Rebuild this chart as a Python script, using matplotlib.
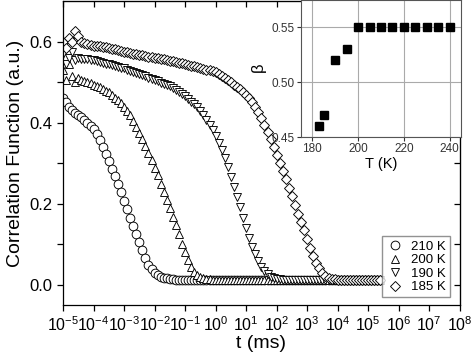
import numpy as np
import matplotlib
matplotlib.use("Agg")
import matplotlib.pyplot as plt
from matplotlib.ticker import FixedLocator, NullLocator

plt.rcParams['font.family'] = ['Liberation Sans', 'DejaVu Sans']
plt.rcParams['mathtext.fontset'] = 'custom'
plt.rcParams['mathtext.rm'] = 'Liberation Sans'
plt.rcParams['mathtext.it'] = 'Liberation Sans'

# shared sampling grid: log10(t / ms)
log_t = [-5.0, -4.9, -4.8, -4.7, -4.6, -4.5, -4.4, -4.3, -4.2, -4.1,
         -4.0, -3.9, -3.8, -3.7, -3.6, -3.5, -3.4, -3.3, -3.2, -3.1,
         -3.0, -2.9, -2.8, -2.7, -2.6, -2.5, -2.4, -2.3, -2.2, -2.1,
         -2.0, -1.9, -1.8, -1.7, -1.6, -1.5, -1.4, -1.3, -1.2, -1.1,
         -1.0, -0.9, -0.8, -0.7, -0.6, -0.5, -0.4, -0.3, -0.2, -0.1,
         0.0, 0.1, 0.2, 0.3, 0.4, 0.5, 0.6, 0.7, 0.8, 0.9,
         1.0, 1.1, 1.2, 1.3, 1.4, 1.5, 1.6, 1.7, 1.8, 1.9,
         2.0, 2.1, 2.2, 2.3, 2.4, 2.5, 2.6, 2.7, 2.8, 2.9,
         3.0, 3.1, 3.2, 3.3, 3.4, 3.5, 3.6, 3.7, 3.8, 3.9,
         4.0, 4.1, 4.2, 4.3, 4.4, 4.5, 4.6, 4.7, 4.8, 4.9,
         5.0, 5.1, 5.2, 5.3, 5.4]

g_210K = [0.460, 0.452, 0.440, 0.432, 0.425, 0.420, 0.414, 0.407, 0.400, 0.393,
          0.385, 0.372, 0.357, 0.340, 0.322, 0.305, 0.287, 0.268, 0.249, 0.228,
          0.207, 0.186, 0.166, 0.145, 0.125, 0.105, 0.086, 0.067, 0.050, 0.038,
          0.030, 0.024, 0.020, 0.017, 0.016, 0.015, 0.014, 0.013, 0.012, 0.012,
          0.012, 0.012, 0.012, 0.012, 0.012, 0.012, 0.012, 0.012, 0.012, 0.012,
          0.012, 0.012, 0.012, 0.012, 0.012, 0.012, 0.012, 0.012, 0.012, 0.012,
          0.012, 0.012, 0.012, 0.012, 0.012, 0.012, 0.012, 0.012, 0.012, 0.012,
          0.012, 0.012, 0.012, 0.012, 0.012, 0.012, 0.012, 0.012, 0.012, 0.012,
          0.012, 0.012, 0.012, 0.012, 0.012, 0.012, 0.012, 0.012, 0.012, 0.012,
          0.012, 0.012, 0.012, 0.012, 0.012, 0.012, 0.012, 0.012, 0.012, 0.012,
          0.012, 0.012, 0.012, 0.012, 0.012]

g_200K = [0.530, 0.505, 0.545, 0.515, 0.500, 0.510, 0.505, 0.502, 0.500, 0.497,
          0.494, 0.490, 0.487, 0.483, 0.479, 0.475, 0.469, 0.462, 0.455, 0.448,
          0.440, 0.430, 0.418, 0.405, 0.390, 0.375, 0.360, 0.343, 0.325, 0.307,
          0.289, 0.270, 0.250, 0.230, 0.210, 0.190, 0.168, 0.147, 0.125, 0.102,
          0.080, 0.061, 0.045, 0.033, 0.025, 0.020, 0.017, 0.015, 0.014, 0.013,
          0.012, 0.012, 0.012, 0.012, 0.012, 0.012, 0.012, 0.012, 0.012, 0.012,
          0.012, 0.012, 0.012, 0.012, 0.012, 0.012, 0.012, 0.012, 0.012, 0.012,
          0.012, 0.012, 0.012, 0.012, 0.012, 0.012, 0.012, 0.012, 0.012, 0.012,
          0.012, 0.012, 0.012, 0.012, 0.012, 0.012, 0.012, 0.012, 0.012, 0.012,
          0.012, 0.012, 0.012, 0.012, 0.012, 0.012, 0.012, 0.012, 0.012, 0.012,
          0.012, 0.012, 0.012, 0.012, 0.012]

g_190K = [0.570, 0.545, 0.560, 0.575, 0.555, 0.560, 0.558, 0.557, 0.556, 0.555,
          0.554, 0.552, 0.550, 0.548, 0.546, 0.544, 0.542, 0.540, 0.538, 0.536,
          0.534, 0.531, 0.528, 0.526, 0.523, 0.520, 0.517, 0.514, 0.511, 0.508,
          0.505, 0.502, 0.499, 0.496, 0.493, 0.490, 0.486, 0.481, 0.476, 0.471,
          0.465, 0.459, 0.452, 0.445, 0.438, 0.430, 0.419, 0.407, 0.394, 0.381,
          0.368, 0.350, 0.332, 0.313, 0.290, 0.266, 0.241, 0.216, 0.191, 0.166,
          0.140, 0.115, 0.094, 0.075, 0.058, 0.045, 0.034, 0.026, 0.020, 0.017,
          0.015, 0.014, 0.013, 0.012, 0.012, 0.012, 0.012, 0.012, 0.012, 0.012,
          0.012, 0.012, 0.012, 0.012, 0.012, 0.012, 0.012, 0.012, 0.012, 0.012,
          0.012, 0.012, 0.012, 0.012, 0.012, 0.012, 0.012, 0.012, 0.012, 0.012,
          0.012, 0.012, 0.012, 0.012, 0.012]

g_185K = [0.600, 0.585, 0.610, 0.600, 0.625, 0.615, 0.600, 0.596, 0.594, 0.592,
          0.590, 0.589, 0.588, 0.587, 0.586, 0.585, 0.583, 0.581, 0.579, 0.577,
          0.575, 0.574, 0.572, 0.570, 0.569, 0.567, 0.566, 0.564, 0.563, 0.561,
          0.560, 0.559, 0.557, 0.556, 0.554, 0.553, 0.551, 0.550, 0.548, 0.547,
          0.545, 0.543, 0.541, 0.539, 0.537, 0.535, 0.533, 0.531, 0.529, 0.527,
          0.525, 0.521, 0.516, 0.511, 0.506, 0.500, 0.494, 0.488, 0.482, 0.476,
          0.469, 0.461, 0.451, 0.440, 0.426, 0.411, 0.395, 0.377, 0.359, 0.340,
          0.320, 0.300, 0.280, 0.260, 0.240, 0.220, 0.198, 0.176, 0.155, 0.135,
          0.113, 0.092, 0.072, 0.055, 0.041, 0.030, 0.023, 0.018, 0.015, 0.014,
          0.013, 0.012, 0.012, 0.012, 0.012, 0.012, 0.012, 0.012, 0.012, 0.012,
          0.012, 0.012, 0.012, 0.012, 0.012]

series_labels = ['210 K', '200 K', '190 K', '185 K']
series_markers = ['o', '^', 'v', 'D']

# inset: stretching exponent vs temperature
T_K = [183, 185, 190, 195, 200, 205, 210, 215, 220, 225, 230, 235, 240]
beta = [0.46, 0.47, 0.52, 0.53, 0.55, 0.55, 0.55, 0.55, 0.55, 0.55, 0.55, 0.55, 0.55]

x_ticks_exp = list(range(-5, 9))

fig = plt.figure(figsize=(4.74, 3.62), dpi=100)
ax = fig.add_axes([0.133, 0.157, 0.837, 0.840])

t = 10.0 ** np.array(log_t)
all_series = [g_210K, g_200K, g_190K, g_185K]
for vals, lab, mk in zip(all_series, series_labels, series_markers):
    ms = 6.3 if mk != 'D' else 5.4
    ax.plot(t, vals, linestyle='none', marker=mk, markersize=ms,
            markerfacecolor='white', markeredgecolor='black',
            markeredgewidth=0.65, label=lab)

ax.set_xscale('log')
ax.set_xlim(1e-5, 1e8)
ax.set_ylim(-0.05, 0.7)
ax.xaxis.set_major_locator(FixedLocator([10.0 ** k for k in x_ticks_exp]))
ax.set_xticklabels([r'$10^{%d}$' % k for k in x_ticks_exp])
ax.xaxis.set_minor_locator(NullLocator())
ax.yaxis.set_major_locator(FixedLocator([0.0, 0.2, 0.4, 0.6]))
ax.set_yticklabels(['0.0', '0.2', '0.4', '0.6'])
ax.yaxis.set_minor_locator(FixedLocator([0.1, 0.3, 0.5]))
ax.tick_params(axis='both', which='both', direction='out', length=4, width=0.9,
               labelsize=12)
ax.tick_params(axis='x', labelsize=11.5, pad=3)
ax.tick_params(axis='both', which='both', top=False, right=False)
# mirrored inward ticks on top/right
sec_x = ax.secondary_xaxis('top')
sec_x.set_xticks([10.0 ** k for k in x_ticks_exp])
sec_x.xaxis.set_minor_locator(NullLocator())
sec_x.tick_params(direction='in', length=4, width=0.9, labeltop=False)
sec_y = ax.secondary_yaxis('right')
sec_y.set_yticks([0.0, 0.1, 0.2, 0.3, 0.4, 0.5, 0.6])
sec_y.tick_params(direction='in', length=4, width=0.9, labelright=False)
for s in ax.spines.values():
    s.set_linewidth(0.9)
ax.set_xlabel('t (ms)', fontsize=14, labelpad=1)
ax.set_ylabel('Correlation Function (a.u.)', fontsize=14, labelpad=4)

leg = ax.legend(loc='lower right', bbox_to_anchor=(0.975, 0.026), frameon=True,
                fancybox=False, edgecolor='#777777', fontsize=9.5,
                handletextpad=0.6, borderpad=0.3, labelspacing=0.1,
                handlelength=1.3, borderaxespad=0)
leg.get_frame().set_linewidth(1.0)

# inset
ax2 = fig.add_axes([0.635, 0.6215, 0.3375, 0.3785])
ax2.set_facecolor('white')
ax2.plot(T_K, beta, linestyle='none', marker='s', markersize=5.5,
         color='black')
ax2.set_xlim(175, 245)
ax2.set_ylim(0.45, 0.575)
ax2.xaxis.set_major_locator(FixedLocator([180, 200, 220, 240]))
ax2.yaxis.set_major_locator(FixedLocator([0.45, 0.50, 0.55]))
ax2.set_yticklabels(['0.45', '0.50', '0.55'])
ax2.grid(True, color='#aaaaaa', linewidth=0.8)
ax2.set_axisbelow(True)
ax2.tick_params(axis='both', direction='out', length=3, width=0.8,
                labelsize=8.5, pad=1.5, colors='#333333')
for s in ax2.spines.values():
    s.set_color('#555555')
    s.set_linewidth(0.8)
ax2.set_xlabel('T (K)', fontsize=10.5, labelpad=1)
ax2.set_ylabel(r'$\beta$', fontsize=12, labelpad=2)

fig.savefig('out.png', dpi=100)
